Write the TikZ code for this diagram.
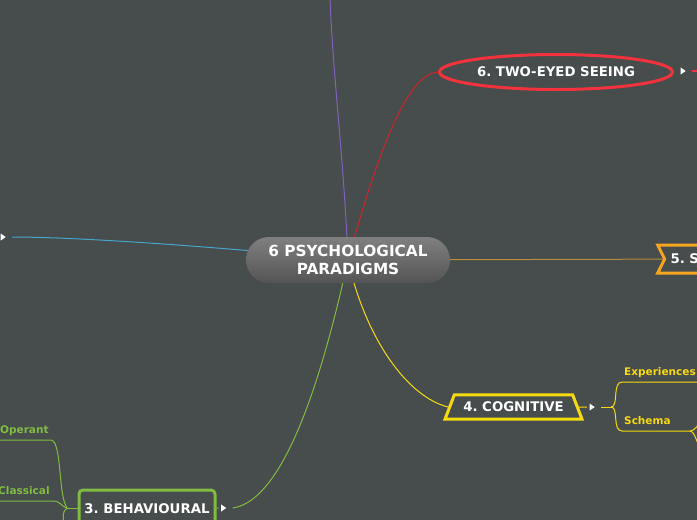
\documentclass[tikz,border=0pt]{standalone}
\usepackage{fontspec}
\setmainfont{DejaVu Sans}
\frenchspacing
\usetikzlibrary{shapes.geometric,shapes.symbols}

\definecolor{board}{RGB}{71,76,76}
\definecolor{hubtop}{RGB}{128,128,128}
\definecolor{hubbot}{RGB}{84,84,84}
\definecolor{eyered}{RGB}{242,50,60}
\definecolor{eyelink}{RGB}{205,38,45}
\definecolor{lilac}{RGB}{128,98,186}
\definecolor{sky}{RGB}{70,165,205}
\definecolor{amber}{RGB}{246,166,30}
\definecolor{amberlink}{RGB}{185,140,60}
\definecolor{lemon}{RGB}{246,218,16}
\definecolor{sprout}{RGB}{128,188,66}

\tikzset{
  hub/.style={rounded corners=23pt, minimum width=204pt, minimum height=46pt,
    top color=hubtop, bottom color=hubbot, text=white, align=center,
    font=\bfseries\fontsize{15.3}{18}\selectfont},
  topic/.style={text=white, inner sep=0pt, font=\bfseries\fontsize{13.3}{15}\selectfont},
  twig/.style={inner xsep=2pt, inner ysep=6pt, text depth=0pt, anchor=south west,
    font=\bfseries\fontsize{10.5}{12}\selectfont},
  fold/.style={isosceles triangle, isosceles triangle stretches, fill=white,
    inner sep=0pt, outer sep=2.5pt, minimum width=7pt, minimum height=5pt},
  link/.style={line width=1pt},
  rim/.style={line width=3pt}
}

\begin{document}
\begin{tikzpicture}[x=1pt,y=-1pt]
  \useasboundingbox (0,0) rectangle (697,520);
  \fill[board] (0,0) rectangle (697,520);
  \clip (0,0) rectangle (697,520);
  \coordinate (c) at (348,260);
  \coordinate (top) at (330,-2);

  % main topics
  \node[topic, ellipse, draw=eyered, rim, minimum width=233pt, minimum height=35pt] (T) at (556,72) {6. TWO-EYED SEEING};
  \node[fold] (fT) at (682.5,71) {};
  \coordinate (eT) at (700,71);
  \node[topic, signal, signal from=west, signal to=nowhere, signal pointer angle=127,
    draw=amber, rim, anchor=west, text width=80pt, align=left, inner xsep=6pt,
    minimum height=28pt] (S) at (663,259) {5. S};
  \node[topic, trapezium, trapezium angle=69, draw=lemon, rim, inner xsep=9pt, inner ysep=7pt] (K) at (513.5,407) {4. COGNITIVE};
  \node[fold] (fK) at (591.5,407) {};
  \coordinate (jK) at (611,407);
  \node[topic, draw=sprout, rim, rounded corners=4pt, minimum width=136pt, minimum height=38pt] (B) at (147,509) {3. BEHAVIOURAL};
  \node[fold] (fB) at (223,508) {};
  \coordinate (jB) at (67,508);
  \node[fold] (fL) at (2.5,237) {};

  % sub topics
  \node[twig, text=lemon] (E) at (622,382) {Experiences};
  \node[twig, text=lemon] (Sc) at (622,431) {Schema};
  \coordinate (jS) at (690,431);
  \node[twig, text=sprout] (Op) at (-2,440) {Operant};
  \node[twig, text=sprout] (Cl) at (-4,501) {Classical};

  % links from the hub
  \draw[lilac, link] (c) .. controls +(-4,-100) and +(3,80) .. (top);
  \draw[eyelink, link] (c) .. controls +(32,-115) and +(-30,2) .. (T.west);
  \draw[eyered, line width=1.5pt] (fT.east) -- (eT);
  \draw[amberlink, link] (c) -- (S);
  \draw[sky, link] (c) .. controls +(-115,-12) and +(70,0) .. (fL.east);
  \draw[lemon, link] (c) .. controls +(18,80) and +(-40,-10) .. (K.west);
  \draw[sprout, link] (c) .. controls +(-22,100) and +(55,-8) .. (fB.east);

  % cognitive branches
  \draw[lemon, link] (K) -- (fK);
  \draw[lemon, link] (fK) -- (jK);
  \draw[lemon, link] (jK) .. controls +(8,0) and +(-10,0) .. (E.south west) -- (E.south east);
  \draw[lemon, link] (jK) .. controls +(8,0) and +(-10,0) .. (Sc.south west) -- (jS);
  \draw[lemon, link] (jS) .. controls +(5,0) and +(-3,6) .. (702,418);
  \draw[lemon, link] (jS) .. controls +(5,0) and +(-3,-8) .. (702,456);

  % behavioural branches
  \draw[sprout, link] (B) -- (fB);
  \draw[sprout, link] (B.west |- jB) -- (jB);
  \draw[sprout, link] (jB) .. controls (58,495) and (62,440) .. (Op.south east) -- (Op.south west);
  \draw[sprout, link] (jB) .. controls (61,507) and (62,501) .. (Cl.south east) -- (Cl.south west);
  \draw[sprout, link] (jB) .. controls (62,512) and (63,516) .. (64,525);

  \node[hub] (C) at (c) {6 PSYCHOLOGICAL\\PARADIGMS};
\end{tikzpicture}
\end{document}
